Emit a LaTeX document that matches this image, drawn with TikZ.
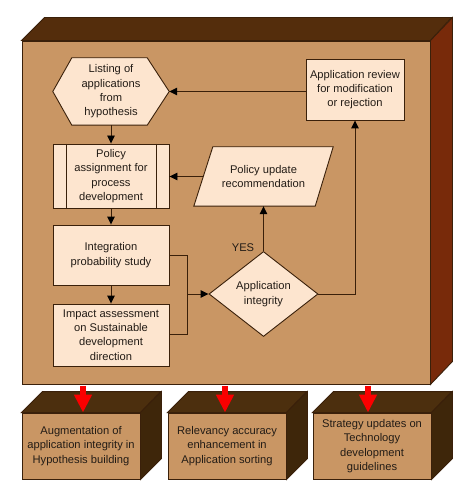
\documentclass[tikz,border=0pt]{standalone}
\usepackage{fontspec}
\setmainfont{Liberation Sans}
\usetikzlibrary{shapes.geometric,arrows.meta,calc}
\definecolor{tanface}{RGB}{201,150,100}
\definecolor{nodefill}{RGB}{253,229,207}
\definecolor{maintop}{RGB}{84,45,12}
\definecolor{mainright}{RGB}{120,42,10}
\definecolor{boxtop}{RGB}{76,47,14}
\definecolor{boxright}{RGB}{62,38,10}
\definecolor{edge}{RGB}{58,32,10}
\definecolor{txt}{RGB}{35,28,22}
\definecolor{redarrow}{RGB}{250,0,0}
\pgfdeclarelayer{back}
\pgfdeclarelayer{mid}
\pgfsetlayers{back,mid,main}
\tikzset{
  face/.style={draw=edge, line width=0.9bp, line join=miter},
  lbl/.style={text=txt, align=center, font=\fontsize{11.2}{14.4}\selectfont, inner sep=0pt},
  box/.style={lbl, draw=edge, fill=nodefill, line width=0.9bp},
  plain/.style={lbl},
  dec/.style={lbl, diamond, draw=edge, fill=nodefill, line width=0.9bp},
  conn/.style={draw=edge, line width=0.9bp},
  arr/.style={conn, -{Triangle[length=8bp,width=7.5bp,color=black]}},
  bigarr/.style={draw=redarrow, line width=6bp, -{Triangle[length=18bp,width=17bp]}},
  front/.style={lbl, draw=edge, fill=tanface, line width=0.9bp}
}
\begin{document}
\begin{tikzpicture}[x=1bp,y=-1bp]
\useasboundingbox (0,0) rectangle (474,497);
% main 3D box
\begin{pgfonlayer}{back}
\fill[white] (0,0) rectangle (474,497);
\node[front, minimum width=408bp, minimum height=343bp] (main) at (226,212.5) {};
\path[face, fill=maintop] (main.north west) -- ++(23,-23) -- ++(407,0) -- (main.north east) -- cycle;
\path[face, fill=mainright] (main.north east) -- ++(22,-23) -- ($(main.south east)+(22,-23)$) -- (main.south east) -- cycle;
\end{pgfonlayer}
% nodes
\node[plain, minimum width=116bp, minimum height=67bp] (hex) at (111,91.5) {Listing of\\applications\\from\\hypothesis};
\node[box, minimum width=98bp, minimum height=61bp] (review) at (355,89.5) {Application review\\for modification\\or rejection};
\node[box, minimum width=116bp, minimum height=64bp] (pol) at (111,176) {Policy\\assignment for\\process\\development};
\node[plain, minimum width=121bp, minimum height=59bp] (par) at (263.5,176.5) {Policy update\\recommendation};
\node[box, minimum width=116bp, minimum height=60bp] (integ) at (111,255) {Integration\\probability study};
\node[box, minimum width=116bp, minimum height=62bp] (impact) at (111,335) {Impact assessment\\on Sustainable\\development\\direction};
\node[dec, minimum width=109bp, minimum height=85bp, aspect=1.28] (dia) at (263.5,294) {Application\\integrity};
\node[plain] (yes) at (243,248) {YES};
% shape outlines
\begin{pgfonlayer}{mid}
\path[face, fill=nodefill] (hex.west) -- ($(hex.north west)+(19,0)$) -- ($(hex.north east)+(-22,0)$) -- (hex.east) -- ($(hex.south east)+(-22,0)$) -- ($(hex.south west)+(19,0)$) -- cycle;
\path[face, fill=nodefill] ($(par.north west)+(10,0)$) -- ($(par.north east)+(9,0)$) -- ($(par.south east)+(-9,0)$) -- ($(par.south west)+(-9,0)$) -- cycle;
\end{pgfonlayer}
\draw[conn] ($(pol.north west)+(14,0)$) -- ($(pol.south west)+(14,0)$);
\draw[conn] ($(pol.north east)+(-13,0)$) -- ($(pol.south east)+(-13,0)$);
% connectors
\draw[arr] (review.west |- hex.east) -- (hex.east);
\draw[arr] (hex.south) -- (pol.north);
\draw[arr] (par.west) -- (par.west -| pol.east);
\draw[arr] (pol.south) -- (integ.north);
\draw[arr] (integ.south) -- (impact.north);
\coordinate (j) at ($(dia.west)+(-21,0)$);
\draw[conn] (integ.east) -| (j);
\draw[conn] ($(impact.east)+(0,-1)$) -| (j);
\draw[arr] (j) -- (dia.west);
\draw[arr] (dia.north) -- (par.south);
\draw[arr] (dia.east) -| (review.south);
% bottom boxes
\node[front, minimum width=118bp, minimum height=66bp] (b1) at (81,446) {Augmentation of\\application integrity in\\Hypothesis building};
\node[front, minimum width=118bp, minimum height=66bp] (b2) at (227,446) {Relevancy accuracy\\enhancement in\\Application sorting};
\node[front, minimum width=118bp, minimum height=66bp] (b3) at (372,446) {Strategy updates on\\Technology\\development\\guidelines};
\foreach \b in {b1,b2,b3}{
  \path[face, fill=boxtop] (\b.north west) -- ++(21,-21) -- ++(118,0) -- (\b.north east) -- cycle;
  \path[face, fill=boxright] (\b.north east) -- ++(21,-21) -- ($(\b.south east)+(21,-21)$) -- (\b.south east) -- cycle;
}
% red arrows
\draw[bigarr] ($(main.south -| b1.north)+(2,1.5)$) -- ($(b1.north)+(2,0)$);
\draw[bigarr] ($(main.south -| b2.north)+(-2,1.5)$) -- ($(b2.north)+(-2,0)$);
\draw[bigarr] ($(main.south -| b3.north)+(-4,1.5)$) -- ($(b3.north)+(-4,0)$);
\end{tikzpicture}
\end{document}
